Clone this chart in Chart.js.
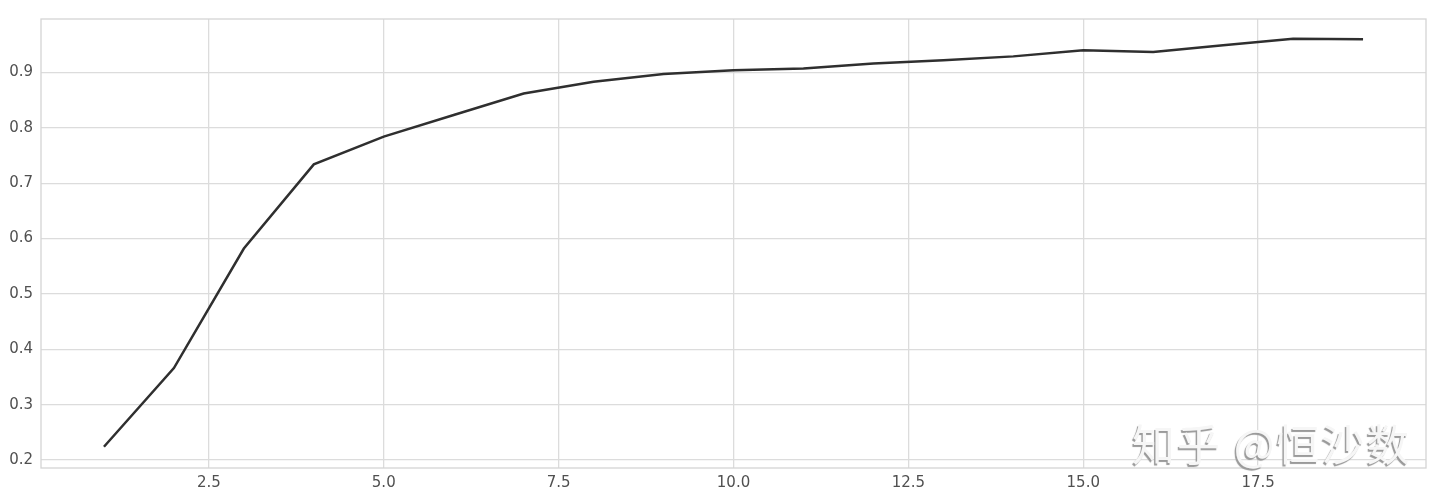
<!DOCTYPE html>
<html>
<head>
<meta charset="utf-8">
<script src="https://cdn.jsdelivr.net/npm/chart.js@4.4.1/dist/chart.umd.min.js"></script>
<style>
  html, body { margin: 0; padding: 0; background: #ffffff; }
  #wrap { position: relative; width: 1440px; height: 503px; }
  #wm {
    position: absolute; left: 1132px; top: 417px;
    font-family: "Noto Sans CJK SC", sans-serif; font-size: 43px; line-height: 50px;
    letter-spacing: 2px;
    color: #f6f6f6; white-space: nowrap;
    text-shadow: -1.5px 1.5px 0.8px #9a9a9a;
  }
</style>
</head>
<body>
<div id="wrap">
  <canvas id="c" width="1440" height="503"></canvas>
  <div id="wm">知乎 @恒沙数</div>
</div>
<script>
const xValues = [1, 2, 3, 4, 5, 6, 7, 8, 9, 10, 11, 12, 13, 14, 15, 16, 17, 18, 19];
const yValues = [0.224, 0.366, 0.582, 0.734, 0.784, 0.823, 0.862, 0.883, 0.897, 0.904, 0.907, 0.916, 0.922, 0.929, 0.940, 0.937, 0.949, 0.961, 0.960];
const xTicks = [2.5, 5.0, 7.5, 10.0, 12.5, 15.0, 17.5];
const yTicks = [0.2, 0.3, 0.4, 0.5, 0.6, 0.7, 0.8, 0.9];

const gridColor = '#dcdcdc';
const frame = {
  id: 'frame',
  afterDraw(chart) {
    const a = chart.chartArea, ctx = chart.ctx;
    ctx.save();
    ctx.strokeStyle = '#d4d4d4';
    ctx.lineWidth = 1.3;
    ctx.strokeRect(a.left, a.top, a.right - a.left, a.bottom - a.top);
    ctx.restore();
  }
};

new Chart(document.getElementById('c'), {
  type: 'line',
  data: {
    datasets: [{
      data: xValues.map((x, i) => ({ x: x, y: yValues[i] })),
      borderColor: '#2f2f2f',
      borderWidth: 2.5,
      pointRadius: 0,
      tension: 0,
      fill: false
    }]
  },
  options: {
    responsive: false,
    animation: false,
    devicePixelRatio: 1,
    layout: { padding: { top: 19, right: 14, left: 0, bottom: 0 } },
    plugins: { legend: { display: false }, tooltip: { enabled: false } },
    scales: {
      x: {
        type: 'linear',
        min: 0.1, max: 19.9,
        afterBuildTicks(s) { s.ticks = xTicks.map(v => ({ value: v })); },
        afterFit(s) { s.height = 35; },
        grid: { color: gridColor, lineWidth: 1.3, drawTicks: false },
        border: { display: false },
        ticks: {
          padding: 6,
          color: '#505050',
          font: { family: 'DejaVu Sans', size: 15 },
          callback: v => Number(v).toFixed(1),
          maxRotation: 0, autoSkip: false
        }
      },
      y: {
        type: 'linear',
        min: 0.1856, max: 0.9965,
        afterBuildTicks(s) { s.ticks = yTicks.map(v => ({ value: v })); },
        afterFit(s) { s.width = 41; },
        grid: { color: gridColor, lineWidth: 1.3, drawTicks: false },
        border: { display: false },
        ticks: {
          padding: 8,
          color: '#505050',
          font: { family: 'DejaVu Sans', size: 15 },
          callback: v => Number(v).toFixed(1),
          autoSkip: false
        }
      }
    }
  },
  plugins: [frame]
});
</script>
</body>
</html>
